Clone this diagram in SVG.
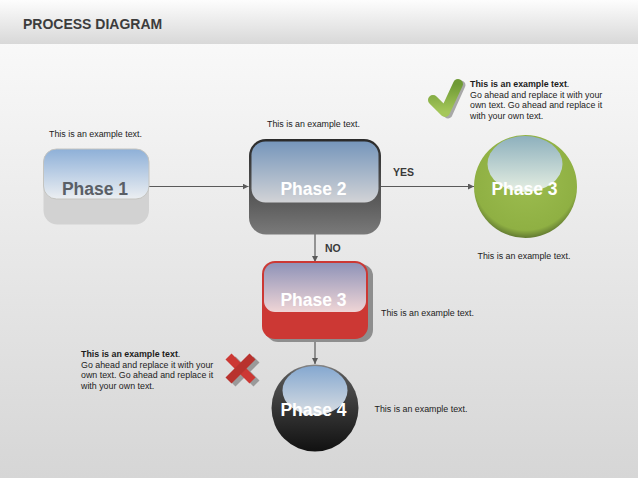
<svg xmlns="http://www.w3.org/2000/svg" width="638" height="478" viewBox="0 0 638 478">
<defs>
<linearGradient id="bg" x1="0" y1="0" x2="0" y2="1"><stop offset="0" stop-color="#fcfcfc"/><stop offset="1" stop-color="#d6d6d6"/></linearGradient>
<linearGradient id="hdr" x1="0" y1="0" x2="0" y2="1"><stop offset="0" stop-color="#fdfdfd"/><stop offset="1" stop-color="#d8d8d8"/></linearGradient>
<linearGradient id="g1" x1="0" y1="0" x2="0" y2="1"><stop offset="0" stop-color="#8eb0d8"/><stop offset="1" stop-color="#eceff2"/></linearGradient>
<linearGradient id="g2" x1="0" y1="0" x2="0" y2="1"><stop offset="0" stop-color="#7696bb"/><stop offset="1" stop-color="#d2d3d6"/></linearGradient>
<linearGradient id="g2b" x1="0" y1="0" x2="0" y2="1"><stop offset="0" stop-color="#2a2a2a"/><stop offset="0.7" stop-color="#5f5f5f"/><stop offset="1" stop-color="#7a7a7a"/></linearGradient>
<linearGradient id="g3" x1="0" y1="0" x2="0" y2="1"><stop offset="0" stop-color="#8f93b8"/><stop offset="1" stop-color="#efd5d6"/></linearGradient>
<linearGradient id="gs3" x1="0" y1="0" x2="0" y2="1"><stop offset="0" stop-color="#8db0bd"/><stop offset="1" stop-color="#e6efe2"/></linearGradient>
<linearGradient id="gs4" x1="0" y1="0" x2="0" y2="1"><stop offset="0" stop-color="#85a8d0"/><stop offset="1" stop-color="#d8dde2"/></linearGradient>
<radialGradient id="green" cx="0.5" cy="0.42" r="0.6"><stop offset="0" stop-color="#9dbd50"/><stop offset="0.84" stop-color="#8fb043"/><stop offset="1" stop-color="#566b2c"/></radialGradient>
<linearGradient id="black" x1="0" y1="0" x2="0" y2="1"><stop offset="0" stop-color="#8a8a8a"/><stop offset="0.12" stop-color="#555"/><stop offset="0.55" stop-color="#333"/><stop offset="1" stop-color="#111"/></linearGradient>
<linearGradient id="chk" x1="0" y1="0" x2="0" y2="1"><stop offset="0" stop-color="#6f9a35"/><stop offset="1" stop-color="#a5c75a"/></linearGradient>
<marker id="arr" markerWidth="7" markerHeight="6" refX="6" refY="3" orient="auto" markerUnits="userSpaceOnUse"><path d="M0 0L6 3L0 6z" fill="#5a5a5a"/></marker>
</defs>
<style>
text{font-family:"Liberation Sans",Arial,sans-serif}
.t{font-size:8.85px;fill:#1c1c1c}
.b{font-weight:bold}
.p{font-size:17.5px;font-weight:bold;fill:#fff;text-anchor:middle}
.l{font-size:10.5px;font-weight:bold;fill:#3a3a3a}
.c{stroke:#5a5a5a;stroke-width:1.2;fill:none;marker-end:url(#arr)}
</style>
<rect width="638" height="478" fill="url(#bg)"/>
<g id="header"><rect width="638" height="44" fill="url(#hdr)"/>
<text x="23" y="29" font-size="14" font-weight="bold" fill="#3c3c3c">PROCESS DIAGRAM</text></g>
<g id="connectors">
<path class="c" d="M149 186.500H248.500"/>
<path class="c" d="M381 186.500H474"/>
<path class="c" d="M315 234V262"/>
<path class="c" d="M315 339V364"/>
</g>
<g id="node-phase1">
<rect x="43.500" y="149" width="105.500" height="75.500" rx="14" fill="#d2d2d2"/>
<rect x="43.500" y="149" width="105.500" height="50" rx="13" fill="url(#g1)" stroke="#c4c4c0" stroke-width="1"/>
<text x="95" y="195" class="p" style="fill:#5a5f66">Phase 1</text>
<text x="49" y="136.500" class="t">This is an example text.</text>
</g>
<g id="node-phase2">
<rect x="249" y="139" width="132" height="95.500" rx="17" fill="url(#g2b)"/>
<rect x="251.500" y="141.500" width="127" height="61" rx="14" fill="url(#g2)"/>
<text x="313.500" y="195" class="p">Phase 2</text>
<text x="267" y="127" class="t">This is an example text.</text>
<text x="393" y="176" class="l">YES</text>
</g>
<g id="node-phase3-circle">
<circle cx="525.500" cy="186.500" r="51.500" fill="url(#green)"/>
<ellipse cx="525" cy="164" rx="37.500" ry="28" fill="url(#gs3)"/>
<text x="524.500" y="195" class="p">Phase 3</text>
<text x="477.500" y="258.500" class="t">This is an example text.</text>
</g>
<g id="check">
<path d="M436 103L448 114L461 85" fill="none" stroke="#a8a8a8" stroke-width="9" stroke-linecap="round" stroke-linejoin="round"/>
<path d="M433 100L445 112L458 84" fill="none" stroke="url(#chk)" stroke-width="10" stroke-linecap="round" stroke-linejoin="round"/>
</g>
<g id="note-top">
<text x="470" y="87" class="t"><tspan class="b">This is an example text</tspan>.</text>
<text x="470" y="97.500" class="t">Go ahead and replace it with your</text>
<text x="470" y="108" class="t">own text. Go ahead and replace it</text>
<text x="470" y="118.500" class="t">with your own text.</text>
</g>
<g id="node-phase3-box">
<rect x="266" y="264" width="107" height="78" rx="12" fill="#8e8e8e"/>
<rect x="262" y="261" width="106" height="78" rx="13" fill="#cc3834"/>
<rect x="264" y="263" width="102" height="49" rx="11" fill="url(#g3)"/>
<text x="313.500" y="306" class="p">Phase 3</text>
<text x="381" y="316" class="t">This is an example text.</text>
<text x="325" y="252" class="l">NO</text>
</g>
<g id="cross">
<path d="M232.500 359.500L256.500 383.500M256.500 359.500L232.500 383.500" stroke="#9a9a9a" stroke-width="8.500" fill="none"/>
<path d="M228.500 356.500L252.500 380.500" stroke="#cc3834" stroke-width="8.500" fill="none"/>
<path d="M252.500 356.500L228.500 380.500" stroke="#b8322e" stroke-width="8.500" fill="none"/>
</g>
<g id="note-left">
<text x="81" y="357" class="t"><tspan class="b">This is an example text</tspan>.</text>
<text x="81" y="367.500" class="t">Go ahead and replace it with your</text>
<text x="81" y="378" class="t">own text. Go ahead and replace it</text>
<text x="81" y="388.500" class="t">with your own text.</text>
</g>
<g id="node-phase4">
<circle cx="315" cy="408" r="43.500" fill="url(#black)"/>
<ellipse cx="315" cy="390.500" rx="32.500" ry="24.500" fill="url(#gs4)"/>
<text x="313.500" y="416" class="p">Phase 4</text>
<text x="374.500" y="411.500" class="t">This is an example text.</text>
</g>
</svg>
